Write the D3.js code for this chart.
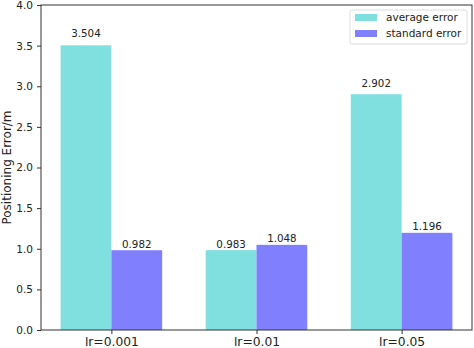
<!DOCTYPE html>
<html lang="en">
<head>
<meta charset="UTF-8">
<title>Positioning Error by Learning Rate</title>
<script src="https://d3js.org/d3.v7.min.js"></script>
<style>
    body { margin: 0; background: #fff; font-family: "DejaVu Sans", sans-serif; }
    svg { display: block; }
    .tick text { fill: #222; }
</style>
</head>
<body>
<svg id="chart" width="474" height="348"></svg>
<script>
    const categories = ["lr=0.001", "lr=0.01", "lr=0.05"];
    const averageError = [3.504, 0.983, 2.902];
    const standardError = [0.982, 1.048, 1.196];
    const seriesNames = ["average error", "standard error"];
    const seriesColors = ["#80dfdf", "#8080ff"];
    const yTicks = [0, 0.5, 1, 1.5, 2, 2.5, 3, 3.5, 4];

    const plotLeft = 41, plotRight = 472, plotTop = 5, plotBottom = 330;
    const barWidth = 0.35;

    const svg = d3.select("#chart");

    // x is in "group index" units, like matplotlib's bar positions
    const x = d3.scaleLinear().domain([-0.485, 2.485]).range([plotLeft, plotRight]);
    const y = d3.scaleLinear().domain([0, 4]).range([plotBottom, plotTop]);

    const series = [averageError, standardError];
    series.forEach((vals, s) => {
        const offset = s === 0 ? -barWidth : 0;
        svg.append("g").selectAll("rect")
            .data(vals)
            .enter()
            .append("rect")
            .attr("x", (d, i) => x(i + offset))
            .attr("width", x(barWidth) - x(0))
            .attr("y", d => y(d))
            .attr("height", d => y(0) - y(d))
            .attr("fill", seriesColors[s]);

        // value labels sit at 1.03 x the bar height
        svg.append("g").selectAll("text")
            .data(vals)
            .enter()
            .append("text")
            .attr("x", (d, i) => x(i + offset + barWidth / 2))
            .attr("y", d => y(d * 1.03))
            .attr("text-anchor", "middle")
            .attr("font-size", 10.3)
            .attr("fill", "#222")
            .text(d => d.toFixed(3));
    });

    // axes
    const yAxis = svg.append("g")
        .attr("transform", `translate(${plotLeft},0)`)
        .call(d3.axisLeft(y).tickValues(yTicks).tickFormat(d3.format(".1f")).tickSize(4).tickPadding(4));
    yAxis.selectAll("text").attr("font-size", 10.5).attr("font-family", "DejaVu Sans");

    const xAxis = svg.append("g")
        .attr("transform", `translate(0,${plotBottom})`)
        .call(d3.axisBottom(x).tickValues([0, 1, 2]).tickFormat(i => categories[i]).tickSize(4).tickPadding(3));
    xAxis.selectAll("text").attr("font-size", 12.3).attr("font-family", "DejaVu Sans");

    svg.selectAll(".domain").remove();
    svg.selectAll(".tick line").attr("stroke", "#333");

    // frame
    svg.append("rect")
        .attr("x", plotLeft).attr("y", plotTop)
        .attr("width", plotRight - plotLeft).attr("height", plotBottom - plotTop)
        .attr("fill", "none").attr("stroke", "#333").attr("stroke-width", 1);

    svg.append("text")
        .attr("transform", `translate(7,${(plotTop + plotBottom) / 2}) rotate(-90)`)
        .attr("text-anchor", "middle")
        .attr("dominant-baseline", "middle")
        .attr("font-size", 12)
        .attr("fill", "#222")
        .text("Positioning Error/m");

    // legend
    const legend = svg.append("g").attr("transform", "translate(350,10)");
    legend.append("rect")
        .attr("width", 117).attr("height", 34).attr("rx", 2)
        .attr("fill", "#fff").attr("stroke", "#ddd");
    seriesNames.forEach((name, i) => {
        legend.append("rect")
            .attr("x", 5).attr("y", 4 + i * 16)
            .attr("width", 22).attr("height", 7)
            .attr("fill", seriesColors[i]);
        legend.append("text")
            .attr("x", 36).attr("y", 8 + i * 16)
            .attr("dominant-baseline", "middle")
            .attr("font-size", 10.5)
            .attr("fill", "#222")
            .text(name);
    });
</script>
</body>
</html>
